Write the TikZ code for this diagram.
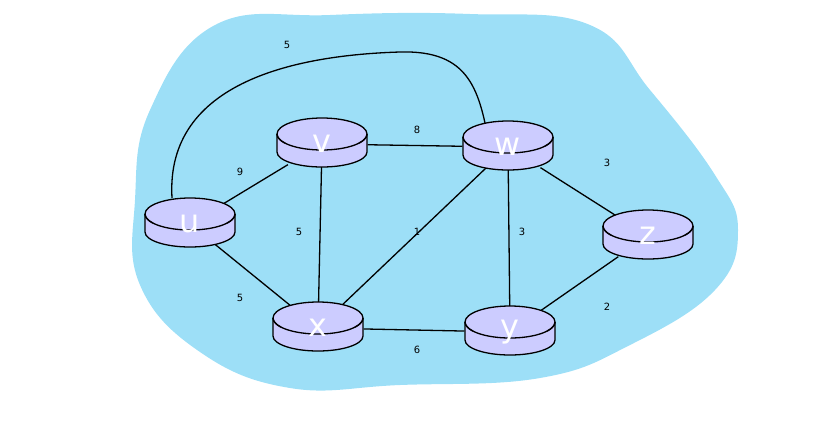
\documentclass[tikz,border=0pt]{standalone}
\usepackage{fontspec}
\setmainfont{DejaVu Sans}
\usetikzlibrary{backgrounds}
\definecolor{cloud}{HTML}{9DDFF7}
\definecolor{rfill}{HTML}{CCCCFF}
\newcommand{\myrouter}[4]{%
  \begin{scope}[shift={(#2,#3)},line width=1.3bp]
    \fill[rfill] (-45,-8) -- (-45,10) arc[start angle=180,end angle=0,x radius=45,y radius=15] -- (45,-8) -- cycle;
    \draw (-45,-8) -- (-45,10) arc[start angle=180,end angle=0,x radius=45,y radius=15] -- (45,-8);
    \draw[fill=rfill] (0,-8) ellipse[x radius=45,y radius=16];
    \draw (-45,-8) arc[start angle=180,end angle=145,x radius=45,y radius=16];
    \draw (45,-8) arc[start angle=0,end angle=35,x radius=45,y radius=16];
    \node[inner sep=0pt,minimum width=90bp,minimum height=40bp,text=white,font=\fontsize{32}{32}\selectfont] (#1) at (0,2) {#4};
  \end{scope}}
\tikzset{lbl/.style={font=\fontsize{10}{10}\selectfont}, link/.style={line width=1.3bp}}
\begin{document}
\begin{tikzpicture}[x=1bp,y=-1bp]
\useasboundingbox (0,0) rectangle (816,427);
\myrouter{u}{190}{222}{u}
\myrouter{v}{322}{142}{v}
\myrouter{w}{508}{145}{w}
\myrouter{z}{648}{234}{z}
\myrouter{x}{318}{326}{x}
\myrouter{y}{510}{330}{y}
\begin{scope}[on background layer]
\fill[cloud] plot[smooth cycle,tension=0.7] coordinates {(135,200) (150,110) (215,25) (330,15) (470,14) (590,25) (650,90) (715,175) (738,230) (715,290) (630,345) (540,378) (400,385) (290,388) (200,352) (140,285)};
\coordinate (uw1) at (172,198);
\coordinate (uw2) at (490,150);
\draw[link] (uw1) .. controls (165,80) and (300,55) .. (400,52) .. controls (470,50) and (480,90) .. (uw2);
\draw[link] (v) -- (w);
\draw[link] (u) -- (v);
\draw[link] (u) -- (x);
\draw[link] (v) -- (x);
\draw[link] (x) -- (w);
\draw[link] (w) -- (y);
\draw[link] (w) -- (z);
\draw[link] (x) -- (y);
\draw[link] (y) -- (z);
\end{scope}
\node[lbl] (l1) at (287,45) {5};
\node[lbl] (l2) at (417,130) {8};
\node[lbl] (l3) at (240,172) {9};
\node[lbl] (l4) at (299,232) {5};
\node[lbl] (l5) at (417,232) {1};
\node[lbl] (l6) at (522,232) {3};
\node[lbl] (l7) at (607,163) {3};
\node[lbl] (l8) at (240,298) {5};
\node[lbl] (l9) at (417,350) {6};
\node[lbl] (l10) at (607,307) {2};
\end{tikzpicture}
\end{document}
